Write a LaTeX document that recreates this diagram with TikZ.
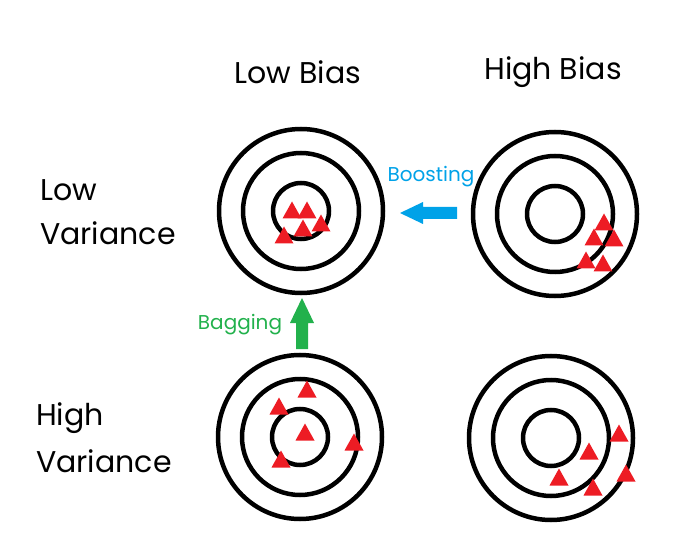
\documentclass[tikz,border=0pt]{standalone}
\usepackage{fontspec}
\setmainfont{Poppins}
\begin{document}
\begin{tikzpicture}[x=1pt,y=-1pt,
  ring/.style={line width=4.5pt,draw=black},
  tri/.pic={\fill[fill=redtri] (-9.5,8.5) -- (0,-8.5) -- (9.5,8.5) -- cycle;},
  lab/.style={font=\fontsize{30}{34}\selectfont,anchor=west,inner sep=0pt},
  head/.style={font=\fontsize{30}{34}\selectfont,inner sep=0pt}]
\definecolor{redtri}{RGB}{237,28,36}
\definecolor{bluea}{RGB}{0,162,232}
\definecolor{greena}{RGB}{34,177,76}
\useasboundingbox (0,0) rectangle (696,553);
\foreach \n/\cx/\cy in {tl/301/211, tr/555/214, bl/300/437, br/551/438}{
  \draw[ring] (\cx,\cy) circle[radius=82];
  \draw[ring] (\cx,\cy) circle[radius=58];
  \draw[ring] (\cx,\cy) circle[radius=28];
  \coordinate (\n) at (\cx,\cy);
}
\foreach \x/\y in {292/210,307/210,321/223,303/228,284/235,
  604/222,594/237,614/238,586/260,603/263,
  307/389,279/406,305/432,354/442,281/459,
  619/433,589/451,626/473,559/477,593/487}
  \pic at (\x,\y) {tri};
\node[head] (lb) at (298,72) {Low Bias};
\node[head] (hb) at (553,72) {High Bias};
\node[lab] (lv1) at (40,190) {Low};
\node[lab] (lv2) at (40,233) {Variance};
\node[lab] (hv1) at (36,418) {High};
\node[lab] (hv2) at (36,461) {Variance};
\node[font=\fontsize{20}{24}\selectfont,text=bluea,inner sep=0pt] (boost) at (431,177) {Boosting};
\node[font=\fontsize{20}{24}\selectfont,text=greena,inner sep=0pt] (bag) at (240,325) {Bagging};
\fill[bluea] (457,207) -- (423,207) -- (423,202) -- (400,213) -- (423,224) -- (423,219) -- (457,219) -- cycle;
\fill[greena] (296,349) -- (296,323) -- (290,323) -- (302,298) -- (314,323) -- (308,323) -- (308,349) -- cycle;
\end{tikzpicture}
\end{document}
